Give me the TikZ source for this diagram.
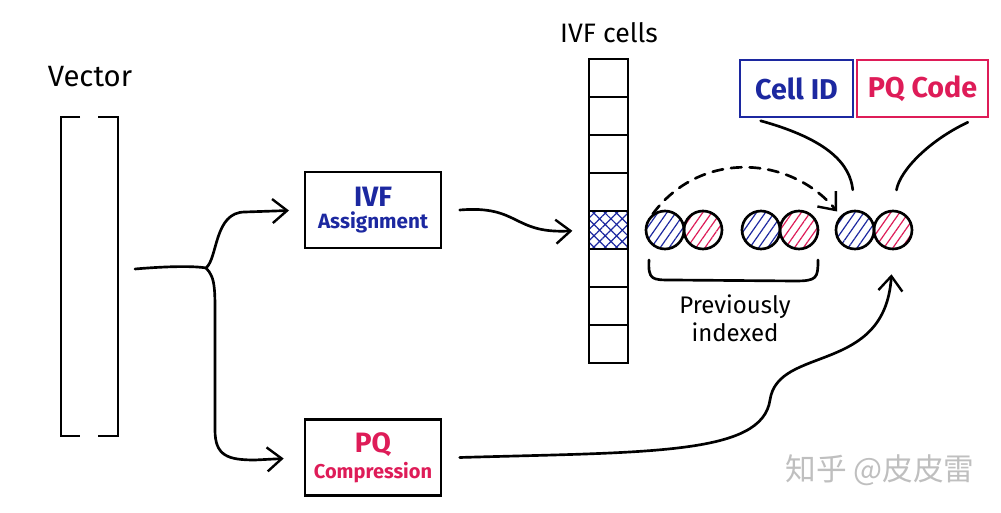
\documentclass[tikz,border=0pt]{standalone}
\usepackage{fontspec}
\setmainfont{Fira Sans}
\newfontfamily\cjk{Noto Sans CJK SC}
\usetikzlibrary{arrows.meta,patterns.meta}
\definecolor{ivfblue}{RGB}{28,40,160}
\definecolor{pqred}{RGB}{222,28,88}
\tikzset{
  ln/.style={line width=2pt, line cap=round, line join=round},
  arr/.style={ln, -{Straight Barb[length=11pt,width=18pt,line width=1.8pt]}},
  box/.style={draw, line width=2pt, minimum width=102pt, minimum height=57pt, align=center, inner sep=0pt},
  cellbox/.style={draw, line width=2pt, minimum width=29.25pt, minimum height=28.5pt, inner sep=0pt},
  circ/.style={draw, circle, line width=2pt, minimum size=28.5pt, inner sep=0pt},
  bhatch/.style={pattern={Lines[angle=55,distance=5.5pt,line width=0.9pt]}, pattern color=ivfblue},
  rhatch/.style={pattern={Lines[angle=55,distance=5.5pt,line width=0.9pt]}, pattern color=pqred},
  xhatch/.style={pattern={Hatch[angle=45,distance=6pt,line width=0.9pt]}, pattern color=ivfblue},
  lbl/.style={font=\fontsize{20}{22}\selectfont, inner sep=0pt},
}
\begin{document}
\begin{tikzpicture}[x=0.75pt,y=-0.75pt]
\useasboundingbox (0,0) rectangle (1001,513);
% Vector
\node[lbl, font=\fontsize{22}{24}\selectfont] (vtitle) at (90,77) {Vector};
\node[minimum width=42.75pt, minimum height=239pt, inner sep=0pt] (vec) at (89.5,276.5) {};
\draw[line width=1.4pt] (80,117) -- (61,117) -- (61,436) -- (80,436);
\draw[line width=1.4pt] (98,117) -- (118,117) -- (118,436) -- (98,436);
\coordinate (vs) at (135,269);
\coordinate (jn) at (206,268);
% boxes
\node[box] (ivf) at (373,210) {\textcolor{ivfblue}{\bfseries\fontsize{21}{22}\selectfont IVF}\\[3pt]\textcolor{ivfblue}{\bfseries\fontsize{15.5}{16}\selectfont Assignment}};
\node[box] (pq) at (373,457.5) {\textcolor{pqred}{\bfseries\fontsize{21}{22}\selectfont PQ}\\[3pt]\textcolor{pqred}{\bfseries\fontsize{15}{16}\selectfont Compression}};
% branch
\draw[ln] (vs) .. controls (170,266) and (195,266) .. (jn);
\draw[arr, shorten >=11pt] (jn) .. controls (218,258) and (214,212) .. (245,212) -- (ivf.west);
\draw[arr, shorten >=15pt] (jn) .. controls (216,278) and (215,290) .. (215,330) -- (215,430) .. controls (215,456) and (228,460) .. (255,460) -- (pq.west);
% IVF cells
\node[lbl] (celltitle) at (609,33) {IVF cells};
\foreach \i in {1,2,3,4,6,7,8}{
  \node[cellbox] (cell\i) at (608.5,{59+19+(\i-1)*38}) {};
}
\node[cellbox,xhatch] (cell5) at (608.5,{59+19+4*38}) {};
\draw[arr, shorten >=12pt] (ivf.east) ++(13pt,0) .. controls (520,205) and (512,234) .. (cell5.west);
% circles
\node[circ,bhatch] (c1) at (665,230) {};
\node[circ,rhatch] (c2) at (703,230) {};
\node[circ,bhatch] (c3) at (761,230) {};
\node[circ,rhatch] (c4) at (799,230) {};
\node[circ,bhatch] (c5) at (855,230) {};
\node[circ,rhatch] (c6) at (893,230) {};
% brace
\draw[ln] (649,260) .. controls (648,280) and (652,280) .. (672,280) -- (795,281) .. controls (817,281) and (818,278) .. (818,260);
\node[font=\fontsize{18}{21}\selectfont, align=center, inner sep=0pt] (prev) at (735,318) {Previously\\indexed};
% dashed arrow
\draw[arr, dashed, dash pattern=on 8pt off 6pt, shorten <=2pt, shorten >=4pt] (c1.north west) .. controls (700,150) and (790,155) .. (c5.north west);
% Cell ID / PQ Code
\node[draw=ivfblue, line width=2pt, minimum width=84.75pt, minimum height=42.75pt, inner sep=0pt, text=ivfblue, font=\bfseries\fontsize{21.5}{22}\selectfont] (cid) at (796.5,88.5) {Cell ID};
\node[draw=pqred, line width=2pt, minimum width=98.25pt, minimum height=42.75pt, inner sep=0pt, text=pqred, font=\bfseries\fontsize{21.5}{22}\selectfont] (pqc) at (922.5,88.5) {PQ Code};
\draw[ln, shorten <=7pt, shorten >=15pt] (cid.south west) ++(13,0) .. controls (830,140) and (850,165) .. (c5.north);
\draw[ln, shorten <=7pt, shorten >=15pt] (pqc.south east) ++(-13,0) .. controls (930,140) and (900,170) .. (c6.north);
% PQ compression arrow
\draw[arr, shorten >=18pt] (pq.east) ++(13pt,0) .. controls (650,452) and (762,455) .. (770,400) .. controls (778,345) and (885,375) .. (c6.south);
% watermark
\node[font=\cjk\fontsize{23}{26}\selectfont, text=black!25, inner sep=0pt] (wm) at (880,470) {知乎 @皮皮雷};
\end{tikzpicture}
\end{document}
